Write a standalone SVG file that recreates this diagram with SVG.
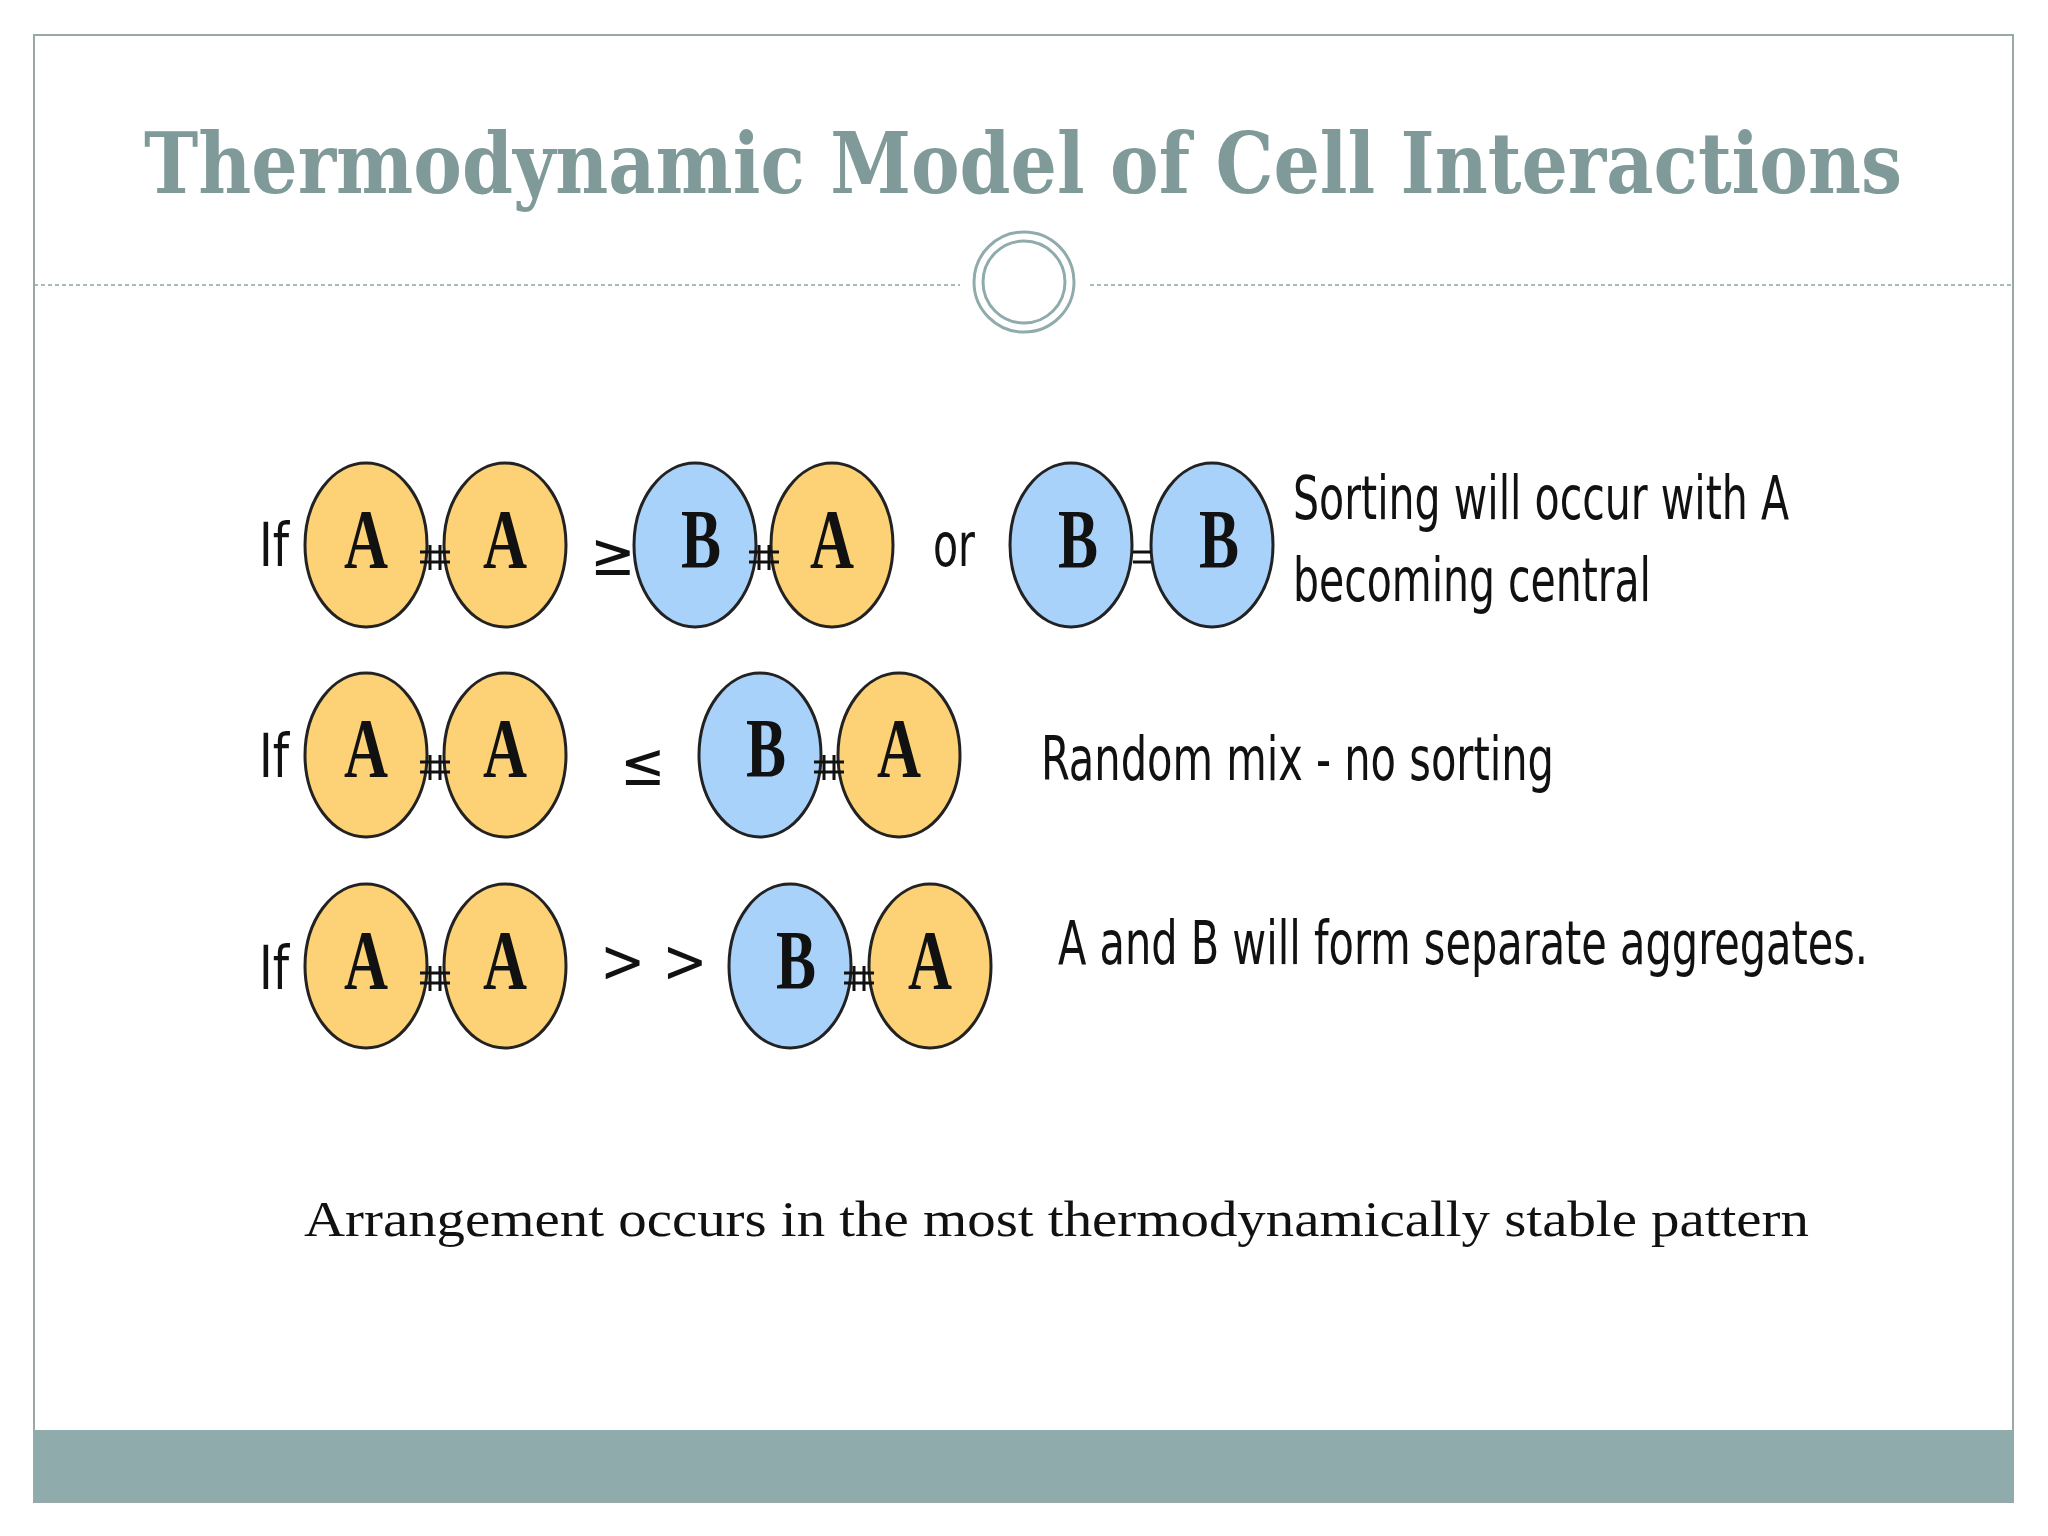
<svg xmlns="http://www.w3.org/2000/svg" width="2048" height="1536" viewBox="0 0 2048 1536">
<style>
.a{fill:#fdd276;stroke:#222;stroke-width:3}
.b{fill:#a9d2fb;stroke:#222;stroke-width:3}
.l{font-family:"Liberation Serif",serif;font-weight:bold;font-size:84px;fill:#111;text-anchor:middle}
.s{font-family:"DejaVu Sans Condensed","DejaVu Sans",sans-serif;font-size:60px;fill:#111}
.eq{stroke:#111;stroke-width:3}
</style>
<rect width="2048" height="1536" fill="#fff"/>
<rect x="34" y="35" width="1979" height="1467" fill="none" stroke="#9aa9a8" stroke-width="2"/>
<rect x="34" y="1430" width="1979" height="72" fill="#8fabab"/>
<text x="1023" y="193" text-anchor="middle" font-family="'DejaVu Serif',serif" font-weight="bold" font-size="84" fill="#7f9a99" textLength="1758" lengthAdjust="spacingAndGlyphs">Thermodynamic Model of Cell Interactions</text>
<line x1="34" y1="285" x2="960" y2="285" stroke="#8fa5a4" stroke-width="1.5" stroke-dasharray="4,3"/>
<line x1="1090" y1="285" x2="2013" y2="285" stroke="#8fa5a4" stroke-width="1.5" stroke-dasharray="4,3"/>
<circle cx="1024" cy="282" r="50" fill="#fff" stroke="#8fabab" stroke-width="3"/>
<circle cx="1024" cy="282" r="41" fill="#fff" stroke="#8fabab" stroke-width="3"/>
<g id="row1">
<text class="s" x="259" y="566" textLength="30" lengthAdjust="spacingAndGlyphs">If</text>
<ellipse class="a" cx="366" cy="545" rx="61" ry="82"/><ellipse class="a" cx="505" cy="545" rx="61" ry="82"/>
<text class="l" x="366" y="568" textLength="44" lengthAdjust="spacingAndGlyphs">A</text><text class="l" x="505" y="568" textLength="44" lengthAdjust="spacingAndGlyphs">A</text>
<path class="eq" d="M420 552h30M420 562h30M430 545v25M440 545v25"/>
<text class="s" x="590" y="575" font-size="44">≥</text>
<ellipse class="b" cx="695" cy="545" rx="61" ry="82"/><ellipse class="a" cx="832" cy="545" rx="61" ry="82"/>
<text class="l" x="701" y="568" textLength="40" lengthAdjust="spacingAndGlyphs">B</text><text class="l" x="832" y="568" textLength="44" lengthAdjust="spacingAndGlyphs">A</text>
<path class="eq" d="M749 552h30M749 562h30M759 545v25M769 545v25"/>
<text class="s" x="933" y="566" textLength="42" lengthAdjust="spacingAndGlyphs">or</text>
<ellipse class="b" cx="1071" cy="545" rx="61" ry="82"/><ellipse class="b" cx="1212" cy="545" rx="61" ry="82"/>
<text class="l" x="1078" y="568" textLength="40" lengthAdjust="spacingAndGlyphs">B</text><text class="l" x="1219" y="568" textLength="40" lengthAdjust="spacingAndGlyphs">B</text>
<path class="eq" d="M1133 552h18M1133 562h18"/>
<text class="s" x="1293" y="519" textLength="496" lengthAdjust="spacingAndGlyphs">Sorting will occur with A</text>
<text class="s" x="1293" y="601" textLength="358" lengthAdjust="spacingAndGlyphs">becoming central</text>
</g>
<g id="row2">
<text class="s" x="259" y="777" textLength="30" lengthAdjust="spacingAndGlyphs">If</text>
<ellipse class="a" cx="366" cy="755" rx="61" ry="82"/><ellipse class="a" cx="505" cy="755" rx="61" ry="82"/>
<text class="l" x="366" y="777" textLength="44" lengthAdjust="spacingAndGlyphs">A</text><text class="l" x="505" y="777" textLength="44" lengthAdjust="spacingAndGlyphs">A</text>
<path class="eq" d="M420 762h30M420 772h30M430 755v25M440 755v25"/>
<text class="s" x="620" y="785" font-size="44">≤</text>
<ellipse class="b" cx="760" cy="755" rx="61" ry="82"/><ellipse class="a" cx="899" cy="755" rx="61" ry="82"/>
<text class="l" x="766" y="777" textLength="40" lengthAdjust="spacingAndGlyphs">B</text><text class="l" x="899" y="777" textLength="44" lengthAdjust="spacingAndGlyphs">A</text>
<path class="eq" d="M814 762h30M814 772h30M824 755v25M834 755v25"/>
<text class="s" x="1041" y="780" textLength="513" lengthAdjust="spacingAndGlyphs">Random mix - no sorting</text>
</g>
<g id="row3">
<text class="s" x="259" y="989" textLength="30" lengthAdjust="spacingAndGlyphs">If</text>
<ellipse class="a" cx="366" cy="966" rx="61" ry="82"/><ellipse class="a" cx="505" cy="966" rx="61" ry="82"/>
<text class="l" x="366" y="989" textLength="44" lengthAdjust="spacingAndGlyphs">A</text><text class="l" x="505" y="989" textLength="44" lengthAdjust="spacingAndGlyphs">A</text>
<path class="eq" d="M420 973h30M420 983h30M430 966v25M440 966v25"/>
<text class="s" x="600" y="982" font-size="50">&gt; &gt;</text>
<ellipse class="b" cx="790" cy="966" rx="61" ry="82"/><ellipse class="a" cx="930" cy="966" rx="61" ry="82"/>
<text class="l" x="796" y="989" textLength="40" lengthAdjust="spacingAndGlyphs">B</text><text class="l" x="930" y="989" textLength="44" lengthAdjust="spacingAndGlyphs">A</text>
<path class="eq" d="M844 973h30M844 983h30M854 966v25M864 966v25"/>
<text class="s" x="1058" y="964" textLength="810" lengthAdjust="spacingAndGlyphs">A and B will form separate aggregates.</text>
</g>
<text x="304" y="1236" font-family="'Liberation Serif',serif" font-size="50" fill="#111" textLength="1505" lengthAdjust="spacingAndGlyphs">Arrangement occurs in the most thermodynamically stable pattern</text>
</svg>
